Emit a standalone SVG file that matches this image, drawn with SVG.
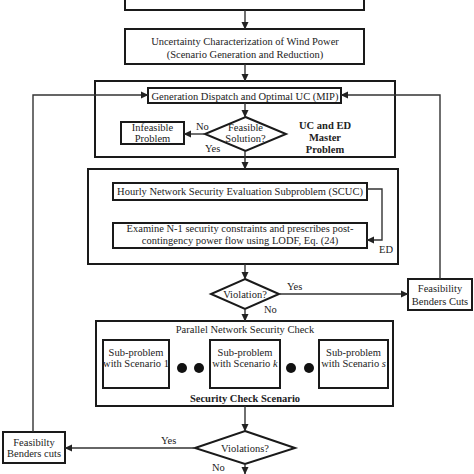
<svg xmlns="http://www.w3.org/2000/svg" width="474" height="474" viewBox="0 0 474 474">
<defs>
<marker id="ah" markerWidth="8" markerHeight="8" refX="7" refY="4" orient="auto" markerUnits="userSpaceOnUse">
<path d="M0,0.5 L7.5,4 L0,7.5 z" fill="#222"/>
</marker>
<style>
.box{fill:#fff;stroke:#1a1a1a;stroke-width:2}
.obox{fill:none;stroke:#1a1a1a;stroke-width:2}
.con{fill:none;stroke:#333;stroke-width:1.4}
.t{font-family:"Liberation Serif","Times New Roman",serif;font-size:10.5px;fill:#222;text-anchor:middle}
.b{font-family:"Liberation Serif","Times New Roman",serif;font-size:10.5px;font-weight:bold;fill:#222;text-anchor:middle}
.lab{font-family:"Liberation Serif","Times New Roman",serif;font-size:10.5px;fill:#222}
</style>
</defs>
<rect width="474" height="474" fill="#fff"/>

<g id="master">
<rect class="obox" x="95" y="81" width="300" height="76"/>
<text class="b" x="325" y="129">UC and ED</text>
<text class="b" x="325" y="141">Master</text>
<text class="b" x="325" y="153">Problem</text>
</g>
<g id="scuc-group">
<rect class="obox" x="88" y="169" width="310" height="95"/>
</g>
<g id="parallel">
<rect class="obox" x="96" y="321" width="297" height="85"/>
<text class="t" x="245" y="332.5">Parallel Network Security Check</text>
<text class="b" x="245" y="401.5">Security Check Scenario</text>
</g>

<g id="top"><rect class="box" x="125" y="-5" width="239" height="15"/></g>
<g id="uncertainty">
<rect class="box" x="125" y="29" width="239" height="35"/>
<text class="t" x="245" y="44.5">Uncertainty Characterization of Wind Power</text>
<text class="t" x="245" y="57.5">(Scenario Generation and Reduction)</text>
</g>
<g id="gen">
<rect class="box" x="148" y="88" width="193" height="15"/>
<text class="t" x="245" y="99.5">Generation Dispatch and Optimal UC (MIP)</text>
</g>
<g id="feasible">
<polygon class="box" points="245.5,117 286,134 245.5,151 205,134"/>
<text class="t" x="245.5" y="131">Feasible</text>
<text class="t" x="245.5" y="142">Solution?</text>
</g>
<g id="infeasible">
<rect class="box" x="121" y="122" width="63" height="22"/>
<text class="t" x="152.5" y="130.5">Infeasible</text>
<text class="t" x="152.5" y="142">Problem</text>
</g>
<g id="hourly">
<rect class="box" x="113" y="183" width="254" height="17"/>
<text class="t" x="240" y="195">Hourly Network Security Evaluation Subproblem (SCUC)</text>
</g>
<g id="examine">
<rect class="box" x="113" y="223" width="254" height="25"/>
<text class="t" x="240" y="232">Examine N-1 security constraints and prescribes post-</text>
<text class="t" x="240" y="244">contingency power flow using LODF, Eq. (24)</text>
</g>
<g id="violation">
<polygon class="box" points="245,279 279,294 245,309 211,294"/>
<text class="t" x="245" y="297.5">Violation?</text>
</g>
<g id="fbc-right">
<rect class="box" x="408" y="279" width="64" height="31"/>
<text class="t" x="440" y="291.5">Feasibility</text>
<text class="t" x="440" y="304.5">Benders Cuts</text>
</g>
<g id="sub1">
<rect class="box" x="103" y="340" width="66" height="48"/>
<text class="t" x="136" y="356">Sub-problem</text>
<text class="t" x="136" y="366.5">with Scenario 1</text>
</g>
<g id="subk">
<rect class="box" x="210" y="340" width="70" height="48"/>
<text class="t" x="245" y="356">Sub-problem</text>
<text class="t" x="245" y="366.5">with Scenario <tspan font-style="italic">k</tspan></text>
</g>
<g id="subs">
<rect class="box" x="319" y="340" width="69" height="48"/>
<text class="t" x="353.5" y="356">Sub-problem</text>
<text class="t" x="353.5" y="366.5">with Scenario <tspan font-style="italic">s</tspan></text>
</g>
<g id="dots" fill="#111">
<circle cx="182" cy="368" r="5"/>
<circle cx="199" cy="368" r="5"/>
<circle cx="291" cy="368" r="5"/>
<circle cx="309" cy="368" r="5"/>
</g>
<g id="violations">
<polygon class="box" points="245,431 295,448 245,464 195,448"/>
<text class="t" x="245" y="451.5">Violations?</text>
</g>
<g id="fbc-left">
<rect class="box" x="3" y="432" width="62" height="31"/>
<text class="t" x="34" y="445.5">Feasibilty</text>
<text class="t" x="34" y="457">Benders cuts</text>
</g>

<g id="connectors">
<path class="con" d="M245,10 V29" marker-end="url(#ah)"/>
<path class="con" d="M245,64 V81" marker-end="url(#ah)"/>
<path class="con" d="M245,103 V117" marker-end="url(#ah)"/>
<path class="con" d="M205,134 H184" marker-end="url(#ah)"/>
<path class="con" d="M245,151 V169" marker-end="url(#ah)"/>
<path class="con" d="M367,189 H382 V240 H367" marker-end="url(#ah)"/>
<path class="con" d="M245,264 V279" marker-end="url(#ah)"/>
<path class="con" d="M279,294 H408" marker-end="url(#ah)"/>
<path class="con" d="M440,279 V95 H341" marker-end="url(#ah)"/>
<path class="con" d="M245,309 V321" marker-end="url(#ah)"/>
<path class="con" d="M245,406 V431" marker-end="url(#ah)"/>
<path class="con" d="M195,448 H65" marker-end="url(#ah)"/>
<path class="con" d="M33,432 V95 H148" marker-end="url(#ah)"/>
<path class="con" d="M245,464 V474" marker-end="url(#ah)"/>
<text class="lab" x="196" y="130">No</text>
<text class="lab" x="205" y="152">Yes</text>
<text class="lab" x="379" y="253">ED</text>
<text class="lab" x="287" y="290">Yes</text>
<text class="lab" x="264" y="313">No</text>
<text class="lab" x="161" y="444">Yes</text>
<text class="lab" x="212" y="471">No</text>
</g>
</svg>
